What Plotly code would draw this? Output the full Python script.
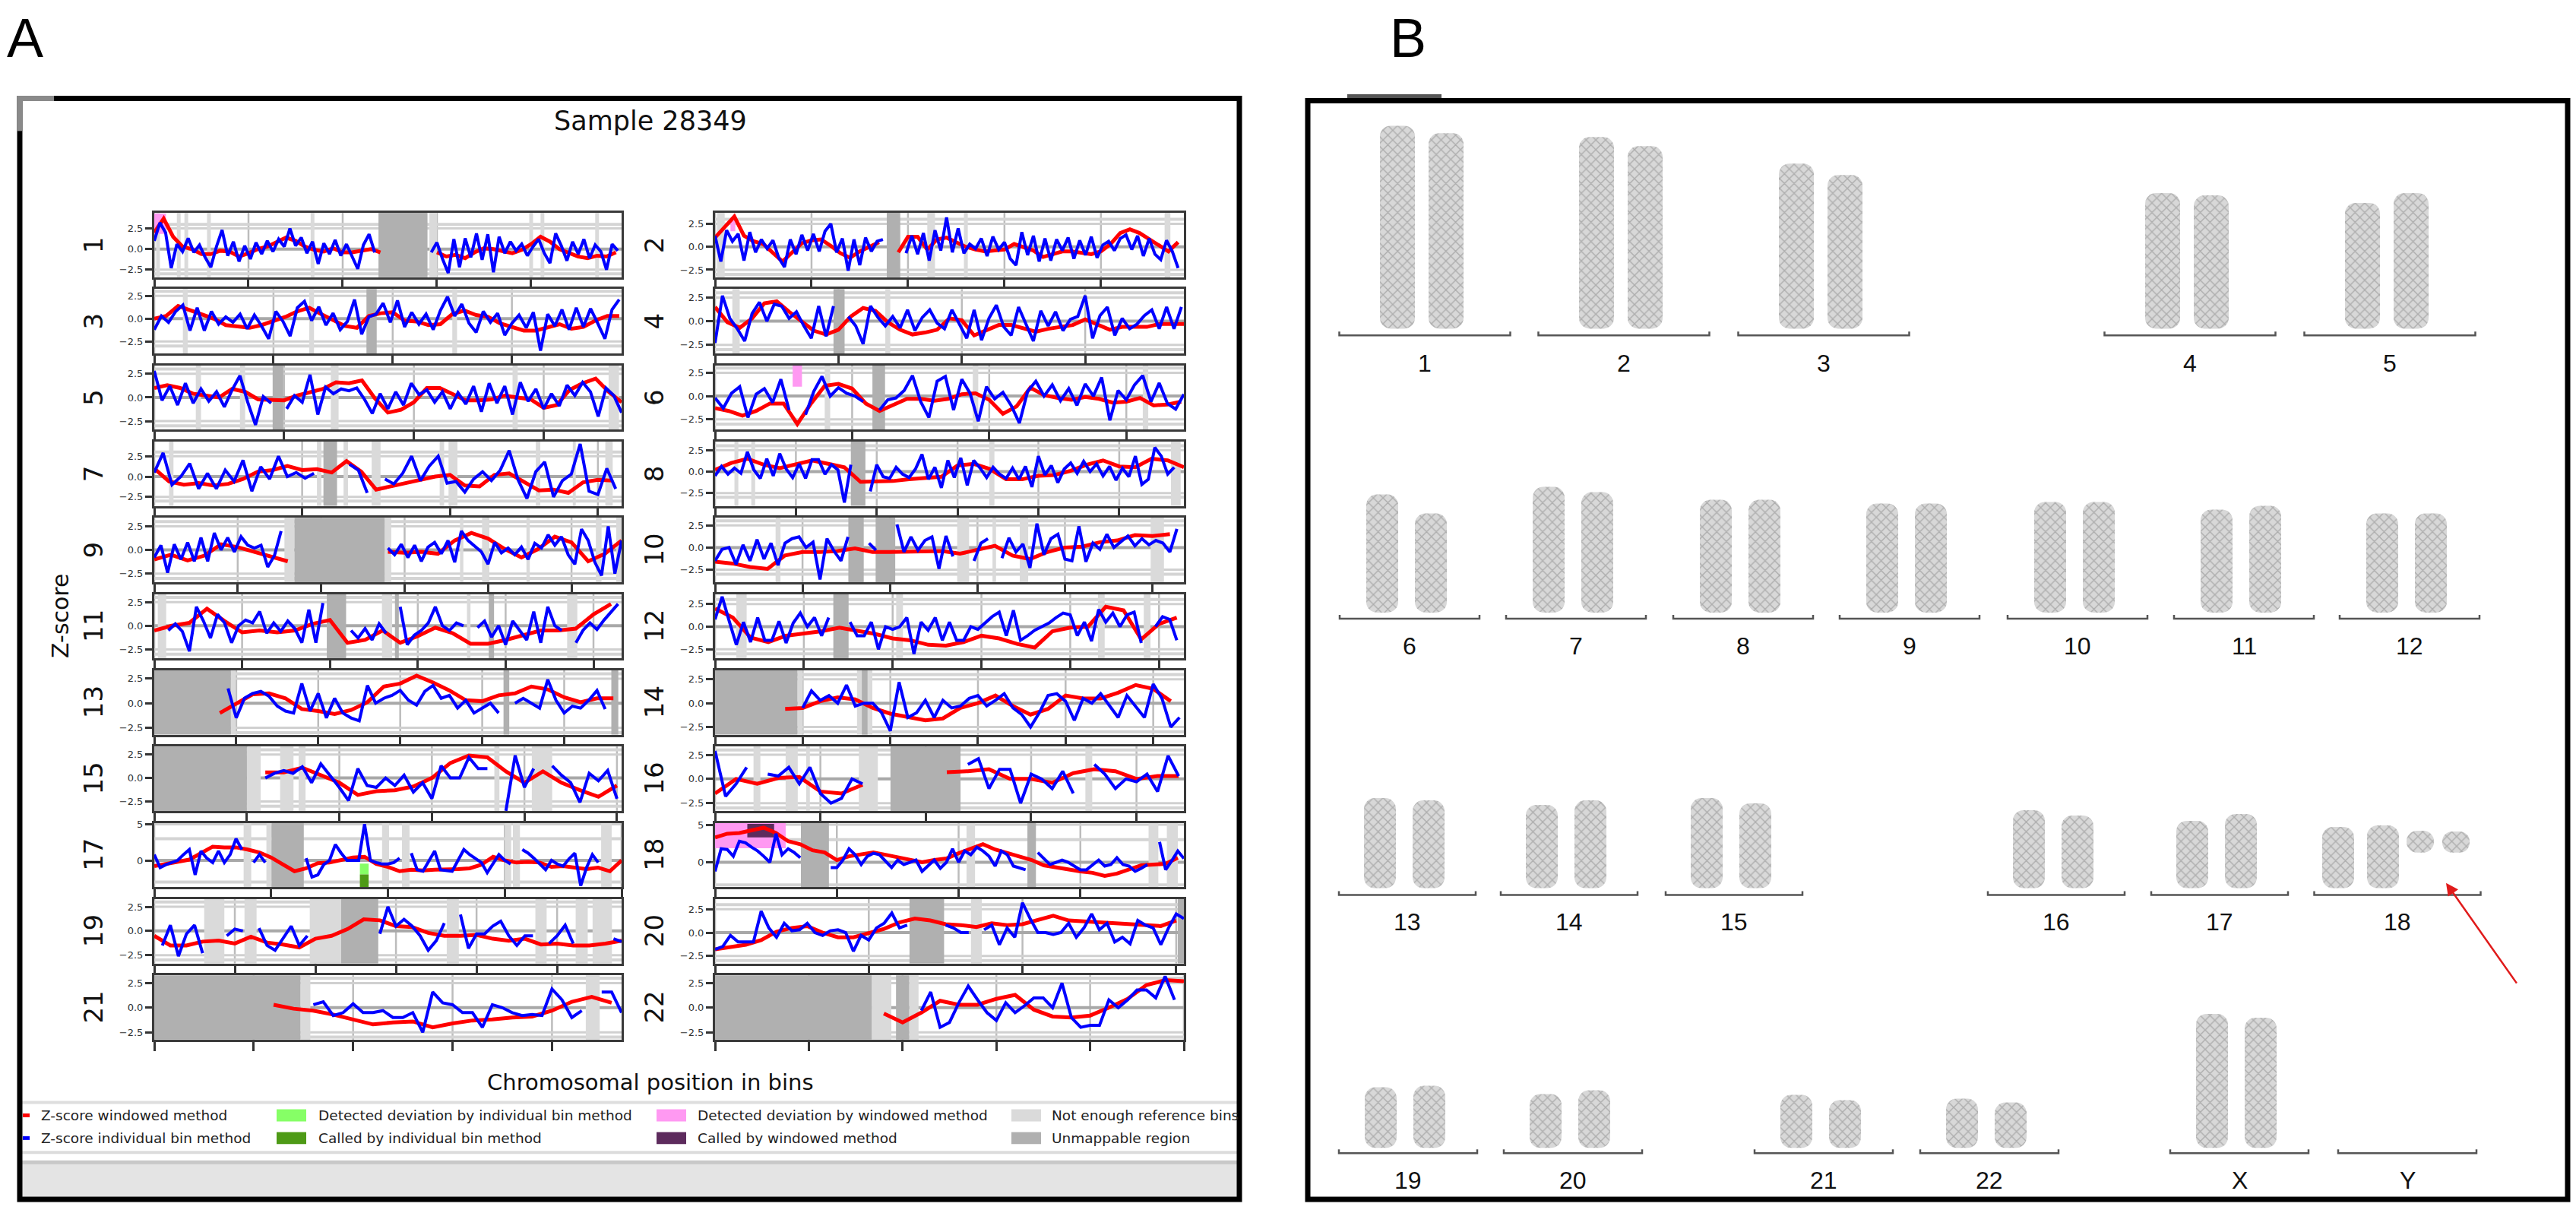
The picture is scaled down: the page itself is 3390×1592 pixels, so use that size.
import plotly.graph_objects as go

W, H = 3390, 1592

# ------------------------------------------------------------------ data
CHROMS = [str(c) for c in range(1, 23)]
LENGTHS = [248, 243, 196, 190, 180, 171, 158, 145, 140, 134, 133, 132, 114, 107, 101, 89, 80, 77, 58, 61, 47, 50]
DTICKS = [50, 50, 50, 50, 50, 50, 50, 25, 25, 25, 25, 25, 20, 20, 20, 20, 20, 20, 10, 20, 10, 10]
Y_MIN = [-3.4, -3.3, -3.8, -3.4, -3.4, -3.6, -3.6, -4.0, -3.4, -3.9, -3.45, -3.5, -3.2, -3.3, -3.5, -3.3, -3.7, -3.3, -3.35, -3.3, -3.25, -3.25]
Y_MAX = [4.4, 3.7, 3.25, 3.4, 3.4, 3.3, 4.3, 3.5, 3.4, 3.35, 3.35, 3.6, 3.35, 3.45, 3.35, 3.35, 5.2, 5.25, 3.3, 3.6, 3.3, 3.3]
STEP_IND = [3, 3, 3, 3, 3, 3, 3, 2, 2, 2, 2, 2, 2, 2, 2, 2, 1, 1, 1, 1, 1, 1]
STEP_WIN = [5, 5, 5, 5, 5, 5, 5, 5, 5, 5, 5, 5, 4, 4, 4, 4, 2, 2, 2, 2, 2, 2]

# z-score, individual bin method (blue)
Z_IND_1 = [1.0, 3.2, 2.0, -2.3, 0.6, -0.3, 1.3, -0.4, 0.5, -1.0,
           -2.2, 0.3, 2.3, -0.8, 0.9, -1.5, 0.4, -1.2, 0.8, -0.6,
           1.0, -0.3, 1.2, 0.3, 2.5, 0.4, 1.4, -0.5, 0.9, -1.8,
           0.7, -0.6, 1.1, -0.8, 0.6, -1.0, -2.4, 0.5, 1.8, -0.4,
           None, None, None, None, None, None, None, None, None, -0.4,
           0.8, -1.2, -2.9, 1.2, -2.2, 1.3, -1.0, 1.9, -1.3, 1.8,
           -2.8, 1.5, -0.5, 0.9, -0.2, 0.6, -0.8, 0.3, 1.2, -0.5,
           -1.7, 1.9, 0.4, -1.4, 0.9, -0.6, 1.2, -1.1, 0.5, -0.3,
           -2.5, 0.6, -0.2]
Z_IND_2 = [1.2, -1.6, 1.8, 0.6, 1.4, -1.5, 1.6, -0.6, 0.8, -0.2,
           0.7, -1.2, -2.2, 0.8, -0.8, 1.3, -0.4, 1.4, -0.5, 1.7,
           2.5, -0.6, 0.9, -2.6, 0.8, -2.0, 1.0, -0.5, 0.6, 0.8,
           None, None, None, -0.7, 1.2, -0.8, 1.5, -1.5, 1.8, -0.4,
           3.2, -0.6, 2.0, -0.7, 0.3, -0.2, 0.9, -1.0, 1.1, -0.3,
           0.5, -1.3, -2.0, 1.6, -0.9, 1.2, -1.6, 0.9, -1.5, 0.8,
           -0.4, 1.0, -1.3, 0.7, -0.9, 1.1, -1.2, 0.2, 0.6, -0.4,
           0.9, 1.3, -0.3, 1.2, -1.0, 0.9, -0.8, -1.4, 0.7, -0.5,
           -2.3]
Z_IND_3 = [-1.2, 0.3, -0.4, 0.8, 1.5, -1.3, 1.2, -1.3, 0.8, -0.6,
           0.2, -0.4, 0.5, -1.1, 0.4, -0.8, -2.2, 0.8, -0.3, -1.9,
           1.2, 1.9, -0.2, 1.3, -0.7, 0.6, -1.2, -0.3, 2.1, -1.7,
           0.2, 0.5, 1.7, -0.4, 2.0, -0.9, 0.7, -0.6, 0.5, -1.2,
           0.9, 2.4, 0.3, 1.6, -0.5, -1.5, 0.8, -0.4, 0.6, -1.8,
           -0.5, 0.4, -1.0, 0.7, -3.5, 0.5, -0.8, 1.0, -1.2, 1.2,
           -0.9, 1.1, -0.5, -2.2, 1.0, 2.1]
Z_IND_4 = [-2.3, 2.7, 0.3, -0.8, -2.1, 0.8, 2.0, 0.0, 1.8, 1.6,
           0.3, 1.0, -0.5, -1.8, 1.6, -1.6, 1.6, None, 0.5, -0.5,
           -2.4, 1.6, 0.4, -0.5, 0.5, -0.7, 1.2, -1.0, 0.4, 1.2,
           -0.2, -0.8, 1.2, -0.3, -1.8, 1.2, -2.0, 0.3, 1.7, -0.6,
           -1.5, 1.5, -0.4, -2.1, 1.1, -0.5, 1.0, -1.0, 0.2, 0.5,
           2.7, -1.8, 0.6, 1.5, -1.5, 0.3, -0.8, -0.3, 0.6, 1.2,
           -0.8, 1.5, -0.8, 1.5]
Z_IND_5 = [2.8, -0.3, 1.2, -0.8, 1.5, -0.6, 0.9, -0.4, 0.6, -1.0,
           0.8, 2.3, -0.5, -2.9, 0.1, -0.6, None, -1.2, 0.2, -0.5,
           2.4, -1.8, 1.1, 0.4, 0.9, 0.7, 1.0, -0.2, -1.7, 0.4,
           -1.2, 0.6, -0.8, 1.5, 0.3, 0.8, -0.5, 0.6, -1.2, 0.5,
           -0.7, 1.2, -1.5, 1.5, -0.6, 1.2, -1.8, 1.6, -0.4, 0.9,
           -1.2, 0.4, -0.9, 1.3, 0.2, 1.6, 0.6, -2.0, 1.0, 0.2,
           -1.6]
Z_IND_6 = [-0.2, -1.3, 0.3, 1.0, -2.3, 0.2, 0.8, -0.7, 1.8, -1.5,
           None, -2.0, 0.5, 2.1, 0.0, 0.9, 0.3, 0.0, -0.6, None,
           -1.5, -0.4, -0.2, 0.6, 2.2, -0.6, -2.3, 1.6, 2.1, -1.5,
           1.8, 0.3, -2.7, 1.0, -0.3, 0.4, -1.0, -2.9, 0.5, 1.6,
           0.0, 1.2, -0.5, 0.8, -1.0, 1.3, 0.0, 2.0, -2.6, 0.6,
           -0.4, 1.2, 2.2, -0.6, 1.4, -0.8, -1.4, 0.2]
Z_IND_7 = [0.5, 2.9, -1.0, 0.0, 1.6, -1.5, 0.4, -1.5, 0.8, -0.6,
           2.0, -1.8, 1.2, -0.3, 2.5, 0.0, 0.5, -0.2, 0.4, None,
           None, None, 1.5, 0.8, -2.0, None, -0.3, -0.9, 0.4, 2.5,
           -0.5, 1.3, 2.5, -0.8, -0.6, -1.9, -0.3, 0.6, -0.5, 0.8,
           3.2, -0.4, -2.7, 0.6, 1.8, -2.5, -0.5, 0.3, 4.0, -1.8,
           -2.2, 1.0, -1.5]
Z_IND_8 = [-0.5, 0.6, -0.3, 0.4, -0.2, 2.3, 0.2, -0.8, 1.5, -0.5,
           2.1, 0.3, -0.7, 0.9, -0.8, 1.4, 1.4, -0.3, 0.8, 0.2,
           -3.6, 0.8, None, None, -2.3, 0.8, -0.6, -0.8, 0.5, -0.3,
           -0.7, 0.3, 2.0, -0.9, 0.5, -1.9, 1.3, -0.7, 1.6, -1.6,
           1.3, 0.4, -0.7, 0.5, -0.3, -0.8, 0.4, -0.9, 0.6, -1.8,
           1.8, -0.4, 0.7, -1.3, 0.3, 1.0, -0.2, 1.2, 0.0, 0.9,
           -0.5, 0.6, -1.0, 0.4, -0.6, 1.8, -1.5, -0.9, 2.8, 1.8,
           -0.3, 0.5, None]
Z_IND_9 = [-0.8, 0.5, -2.4, 0.6, -1.0, 0.8, -1.2, 1.3, -1.2, 1.8,
           0.0, 1.3, -0.2, 1.4, 0.5, 0.2, 0.5, -1.8, -0.6, 2.0,
           None, None, None, None, None, None, None, None, None, None,
           None, None, None, None, None, 0.2, -0.5, 0.6, -0.8, 0.5,
           -1.2, 0.3, 0.8, -0.4, 1.0, -1.3, 2.0, 1.0, 0.4, -0.2,
           -1.5, 0.8, -0.3, 0.2, -0.5, 0.3, -1.0, 0.7, 0.2, 1.6,
           0.5, 1.4, -0.5, -1.5, 2.2, 1.0, -1.3, -2.7, 2.5, -2.5,
           1.0]
Z_IND_10 = [-1.5, -0.2, 0.0, -1.9, 0.3, -1.5, 0.9, -1.3, 0.5, -2.0,
            0.5, 1.0, 1.2, 0.0, 0.6, -3.6, 1.0, -0.4, -1.5, 1.2,
            None, None, 0.5, -0.3, None, None, 2.6, -0.5, 1.2, -0.3,
            0.8, 1.2, -2.4, 1.3, -1.0, None, None, -1.5, 0.5, 1.0,
            None, -1.2, 1.1, -0.5, 0.4, -2.3, 2.7, -0.8, 1.0, 1.5,
            -1.3, -1.5, 2.4, -1.6, 0.5, -0.2, 1.5, 0.0, 0.6, 1.3,
            0.2, 1.0, 0.3, 0.8, 0.5, -0.5, 2.1, None]
Z_IND_11 = [None, None, -0.5, 0.2, -0.6, -2.7, 2.0, 0.5, -1.3, 1.2,
            0.3, -1.8, 0.0, 0.6, 0.3, 1.5, -0.8, 0.3, -0.6, 0.5,
            -0.3, -1.8, 1.7, -1.8, 2.4, None, None, None, -0.5, -1.3,
            -0.3, -1.5, 0.2, -0.8, None, 2.0, -2.0, -1.0, -0.5, 0.3,
            2.0, 0.0, -0.5, 0.3, 0.0, None, -0.2, 0.5, -1.2, 0.0,
            -2.0, 0.5, -0.5, -1.5, 1.5, -1.8, 2.0, 0.0, -0.5, None,
            -1.8, -0.5, 0.3, -0.4, 0.6, 1.5, 2.3]
Z_IND_12 = [0.8, 3.3, 0.6, -2.0, 0.5, -1.7, 1.0, -1.5, -1.5, 0.6,
            -1.8, 0.4, 1.5, 0.0, 1.0, -1.0, 1.0, None, None, 0.5,
            -1.0, -1.0, 0.5, -2.5, 0.0, -0.3, 0.0, 1.0, -3.0, 0.5,
            -0.4, 1.0, -1.5, 0.5, -1.5, -1.5, 0.0, -0.3, 0.4, 1.1,
            1.6, -1.0, 1.8, -1.5, -1.0, -0.4, 0.0, 0.4, 1.0, 1.5,
            1.3, -1.0, 0.5, -1.6, 1.9, 0.5, 1.5, 0.0, 1.3, 1.6,
            -1.8, None, 0.0, 1.1, 0.8, -1.5, None]
Z_IND_13 = [None, None, None, None, None, None, None, None, None, 1.5,
            -1.5, 0.5, 1.0, 1.2, 0.7, -0.3, -0.8, -1.0, 2.0, -0.8,
            1.0, -1.5, 0.5, -1.0, -1.5, -1.8, 1.8, 0.0, 0.5, 0.8,
            1.3, 0.3, -0.2, 1.2, 1.8, 0.5, 0.8, -0.5, 0.3, -1.0,
            -0.5, 0.0, -1.0, None, 0.0, 0.5, 0.0, -0.5, 2.4, 0.3,
            -1.0, -0.3, -0.5, 0.3, 1.3, -0.6, None, None]
Z_IND_14 = [None, None, None, None, None, None, None, None, None, None,
            -0.5, 1.3, 0.3, 0.8, 0.0, 1.9, -0.3, 0.0, 0.0, -1.0,
            -2.9, 2.2, -1.5, -1.0, 0.3, -1.5, 0.3, -0.5, -0.3, 0.5,
            0.8, -0.3, 0.3, 1.0, -0.5, -1.2, -2.5, -1.0, 0.8, 1.0,
            0.2, -1.8, 0.5, 0.0, 1.0, -0.3, -1.5, 0.8, -0.4, -1.5,
            2.0, 0.5, -2.5, -1.5]
Z_IND_15 = [None, None, None, None, None, None, None, None, None, None,
            None, None, 0.0, 0.5, 0.8, 0.5, 1.2, -0.5, 1.5, 0.3,
            -1.0, -2.4, 1.0, -0.8, -1.0, 0.0, -0.8, 0.3, -1.5, -0.5,
            -2.2, 1.3, 0.0, 0.0, 2.2, 1.0, 1.0, None, -3.5, 2.4,
            -1.0, 1.0, None, 1.3, 0.3, -0.5, -2.6, 0.5, -0.3, 0.8,
            -2.2]
Z_IND_16 = [2.9, -1.8, -0.5, 1.2, None, 0.5, 0.3, 1.2, -0.5, 1.2,
            -1.5, -2.5, -2.0, 0.0, -0.5, None, None, None, None, None,
            None, None, None, None, 1.5, 2.1, -1.0, 1.0, 1.0, -2.5,
            0.5, 0.0, -1.0, 0.8, -1.5, None, 1.5, 0.5, -1.0, 0.0,
            -0.3, 0.5, -1.3, 2.4, 0.3]
Z_IND_17 = [0.8, -1.0, -0.6, -0.3, 0.0, 0.8, 1.5, -2.0, 1.3, 0.3,
            -0.3, 1.3, -0.3, 0.8, 3.0, 1.5, None, -0.3, 0.8, -0.3,
            None, None, None, None, None, None, 0.3, -2.3, -2.0, -0.6,
            0.0, 2.2, 1.0, 0.0, 0.0, 0.0, 5.0, 0.0, -0.3, -0.5,
            -0.5, -0.3, 0.3, None, 1.0, -1.3, -1.5, 0.0, 1.3, -1.3,
            -1.4, -1.5, 0.0, 1.5, 0.8, 0.3, -0.3, -1.7, -0.4, 0.8,
            0.0, -0.5, None, 1.5, 1.0, 0.3, -0.5, -1.3, 0.0, -0.5,
            -0.8, 0.2, 1.0, -3.5, -1.0, 0.8, -0.3, None, None, None,
            None]
Z_IND_18 = [-1.2, 1.8, 1.7, 0.8, 2.8, 2.6, 2.0, 1.5, 0.8, 0.0,
            3.8, 1.0, 1.8, 1.3, 0.6, None, None, None, None, -0.7,
            -0.7, 0.3, 1.8, 1.0, -0.3, 0.8, 1.2, 1.0, 0.2, -0.7,
            0.3, -0.3, 0.0, 0.3, -1.2, -0.5, 0.3, -0.8, 0.0, 1.8,
            0.0, 1.5, 1.0, 2.0, 1.5, 0.8, -0.5, 1.5, 1.0, -0.5,
            -0.8, -1.0, None, 1.3, 0.5, -0.3, 0.0, 0.3, 0.0, -0.5,
            -1.0, -1.0, -0.3, 0.3, -0.5, -0.3, 0.6, -0.3, -0.5, -1.2,
            -0.8, -0.3, None, 2.7, -1.0, 0.2, 1.5, 0.5]
Z_IND_19 = [None, -1.5, 0.6, -2.6, -0.3, 0.6, -2.3, None, None, -0.5,
            0.2, 0.0, None, 0.3, -1.5, -2.0, -0.8, 0.5, -1.5, -0.5,
            None, None, None, None, None, None, None, None, -0.3, 2.5,
            0.5, 1.2, 0.5, -0.5, -2.0, -1.0, 0.8, None, 1.7, -1.8,
            -0.3, -0.3, 0.5, 1.0, -0.5, -1.5, -0.5, -0.5, None, -1.3,
            -0.5, 0.6, -1.3, None, None, None, None, -0.8, -1.1]
Z_IND_20 = [-1.8, -1.5, -0.3, -1.0, -1.0, -1.0, 2.3, 0.5, -0.5, 1.0,
            0.2, 0.3, 1.0, 0.0, -0.3, 0.2, 0.3, 0.0, -2.0, -0.3,
            -0.8, 0.5, 1.0, 2.1, 0.5, 0.8, None, None, None, None,
            0.8, 0.5, 0.0, 0.0, None, 0.3, 0.8, -1.3, 0.5, -0.5,
            3.2, 1.5, 0.0, 0.0, -0.2, 0.0, 1.0, -0.5, 0.5, 2.0,
            0.3, 1.0, -1.0, -0.5, -1.2, 1.3, 0.8, 0.5, -1.3, 0.5,
            2.0, 1.5]
Z_IND_21 = [None, None, None, None, None, None, None, None, None, None,
            None, None, None, None, None, None, 0.3, 0.6, -0.8, -0.5,
            0.4, -0.5, -0.5, -0.3, -1.0, -1.0, -0.5, -2.5, 1.6, 0.5,
            0.3, -0.5, -0.5, -2.0, 0.3, 0.0, -0.5, -0.8, -0.7, -0.8,
            1.9, 0.8, -1.0, -0.3, None, 1.6, 1.6, -0.5]
Z_IND_22 = [None, None, None, None, None, None, None, None, None, None,
            None, None, None, None, None, None, None, None, None, None,
            None, None, -0.3, 1.6, -2.0, -1.5, 0.5, 2.2, 0.8, -0.5,
            -1.3, 0.5, -0.5, 0.2, 1.0, 1.0, 0.0, 2.5, -1.0, -2.0,
            -1.8, -1.8, 0.8, 0.0, 0.8, 1.8, 1.8, 1.0, 3.2, 0.8,
            None]

# z-score, windowed method (red)
Z_WIN_1 = [2.0, 3.7, 1.5, 0.3, 0.0, -0.6, -0.6, -0.2, -0.3, -0.9,
           -0.5, 0.0, 0.3, 0.8, 1.4, 1.0, 0.3, -0.1, -0.3, 0.1,
           -0.4, -0.4, -0.2, 0.0, -0.4, None, None, None, None, None,
           -0.4, -0.9, -0.7, -1.1, -0.4, 0.1, 0.0, -0.2, -0.5, -0.1,
           0.6, 1.5, 0.9, 0.0, -0.5, -0.9, -1.1, -0.8, -0.9, -0.4]
Z_WIN_2 = [1.0, 2.2, 3.3, 1.2, 0.6, 0.3, -0.6, -1.6, -0.6, 0.4,
           0.7, 0.8, 0.1, -0.7, -1.2, -0.5, 0.0, 0.5, None, -0.6,
           1.1, 1.1, -0.3, 0.8, 1.0, 0.5, 0.0, -0.3, -0.5, -0.4,
           -0.3, 0.3, 0.0, -0.4, -1.1, -0.8, -0.5, -0.5, -0.7, -0.8,
           -0.5, 0.3, 1.5, 1.9, 1.5, 0.8, 0.2, -0.5, 0.5]
Z_WIN_3 = [0.0, 0.3, 1.4, 0.9, 0.4, 0.0, -0.7, -0.8, -1.0, -0.7,
           -0.3, 0.2, 0.8, 1.2, 0.5, -0.1, -0.8, -1.0, 0.3, 0.6,
           0.7, -0.2, -0.3, -0.7, -0.6, 0.5, 0.9, 0.4, 0.2, -0.5,
           -0.9, -1.3, -1.3, -1.0, -0.6, -1.1, -0.9, -0.2, 0.3, 0.3]
Z_WIN_4 = [1.5, -0.1, -0.7, 0.3, 1.9, 2.1, 1.0, 0.0, -1.0, -1.4,
           -0.9, 0.5, 1.4, 1.1, -0.1, -0.9, -1.4, -1.2, -0.9, 0.3,
           0.1, -1.5, -1.0, -0.4, -0.4, -0.7, -1.1, -0.8, -0.6, -0.4,
           0.2, -0.3, -0.9, -0.6, -0.6, -0.6, -0.3, -0.3, -0.3]
Z_WIN_5 = [1.0, 1.3, 1.0, 0.4, 0.2, 0.0, 0.9, 0.6, -0.2, -0.2,
           -0.3, 0.2, 0.6, 0.9, 1.6, 1.5, 1.8, -0.1, -1.6, -1.3,
           -0.5, 1.0, 1.0, 0.3, -0.3, -0.3, -0.2, 0.2, 0.0, -0.2,
           -1.1, -0.8, 0.8, 1.5, 2.0, 0.6, -0.5]
Z_WIN_6 = [-1.3, -1.6, -2.1, -1.6, -0.8, -0.8, -3.0, -0.8, 1.1, 1.3,
           0.8, -0.8, -1.6, -1.0, -0.3, -0.3, -0.5, -0.3, 0.2, 0.3,
           -0.4, -1.9, -1.1, 0.9, 0.1, -0.2, -0.4, -0.1, -0.3, -0.7,
           -0.6, -0.2, -1.0, -0.9, -0.6]
Z_WIN_7 = [1.0, -0.6, -1.0, -0.8, -1.1, -0.9, -0.3, 0.6, 0.8, 1.3,
           0.8, 0.9, 0.5, 1.9, 0.6, -1.6, -1.2, -0.8, -0.3, 0.0,
           0.2, -1.1, -1.2, 0.2, 0.4, -0.6, -1.7, -1.6, -2.0, -0.7,
           -0.4, -0.5]
Z_WIN_8 = [0.2, 1.0, 1.5, 0.8, 0.4, 0.8, 1.3, 0.9, 0.5, -1.2,
           -1.2, -1.1, -0.9, -0.8, -0.6, 0.7, 0.9, 0.3, -0.9, -0.9,
           -0.5, -0.4, 0.1, 0.8, 1.3, 0.6, 0.5, 1.5, 1.3, 0.5]
Z_WIN_9 = [-1.0, -0.5, -1.1, -0.6, 0.6, 0.3, -0.2, -0.7, -1.2, None,
           None, None, None, None, -0.2, -0.3, -0.2, -0.4, 1.0, 1.8,
           1.2, 0.1, -0.8, 0.1, 1.4, 0.8, -1.2, -0.4, 1.0]
Z_WIN_10 = [-1.6, -1.8, -2.2, -2.4, -0.9, -0.5, -0.5, -0.4, -0.1, -0.5,
            -0.5, -0.5, -0.5, -0.4, -0.7, -0.2, 0.2, -0.9, -1.3, -0.5,
            0.0, 0.1, 0.6, 0.8, 1.4, 1.3, 1.5]
Z_WIN_11 = [-0.5, 0.0, 0.3, 1.8, 0.5, -0.7, -0.5, -0.7, -0.5, 0.2,
            0.6, -1.8, -1.5, -0.5, -1.8, -1.1, -0.2, -0.8, -1.9, -1.9,
            -1.5, -1.0, -0.5, -0.5, -0.3, 1.2, 2.3]
Z_WIN_12 = [2.0, 1.0, -1.2, -1.7, -1.0, -0.8, -0.5, -0.1, -0.4, -0.8,
            -1.3, -1.5, -2.0, -2.1, -1.7, -1.0, -1.3, -1.9, -2.3, -0.5,
            -0.1, 0.0, 2.2, 1.8, -1.4, 0.3, 1.0]
Z_WIN_13 = [None, None, None, None, -1.0, -0.1, 0.9, 1.0, 0.5, -0.6,
            -0.8, -1.1, -0.7, 0.1, 1.7, 2.0, 2.8, 2.1, 1.3, 0.3,
            0.2, 0.8, 1.0, 1.7, 1.4, 0.6, 0.1, 0.5, 0.5]
Z_WIN_14 = [None, None, None, None, -0.6, -0.5, 0.2, 0.6, 0.4, -0.5,
            -1.1, -1.4, -1.8, -1.6, -0.5, 0.0, 0.8, -0.3, -1.2, -0.6,
            0.8, 0.5, 0.5, 1.1, 1.9, 1.5, 0.2]
Z_WIN_15 = [None, None, None, None, None, None, 0.6, 0.6, 1.1, 0.3,
            -0.5, -1.8, -1.4, -1.3, -0.9, 0.0, 1.6, 2.4, 2.2, 0.7,
            -0.5, 0.7, -0.5, -1.3, -2.0, -0.8]
Z_WIN_16 = [-1.5, 0.0, -0.5, 0.1, 0.2, -1.3, -1.5, -0.6, None, None,
            None, 0.7, 0.8, 1.0, 0.0, 0.0, -0.4, 0.6, 1.0, 0.8,
            0.0, 0.3, 0.3]
Z_WIN_17 = [-0.8, -0.5, -0.3, 0.1, 1.0, 1.9, 1.8, 1.8, 1.5, 1.1,
            0.4, -0.6, -1.5, -1.1, -0.4, -0.3, 0.0, 0.4, 0.5, -0.5,
            -0.9, -1.5, -1.3, -1.4, -1.3, -1.3, -1.2, -1.1, -0.6, 0.5,
            0.0, -0.3, -0.2, -0.3, -0.9, -0.8, -1.0, -1.2, -1.0, -1.5,
            0.0]
Z_WIN_18 = [3.3, 3.8, 3.9, 4.3, 4.6, 3.9, 2.8, 2.4, 1.6, 1.3,
            0.3, 0.8, 1.1, 1.3, 1.0, 0.7, 0.4, 0.0, 0.3, 0.5,
            1.2, 1.8, 2.4, 1.7, 1.2, 0.7, 0.3, -0.4, -0.7, -1.0,
            -1.2, -1.4, -1.8, -1.5, -0.9, -0.4, -0.3, -0.2, 0.6]
Z_WIN_19 = [-0.5, -1.5, -1.5, -1.1, -1.0, -1.3, -0.6, -1.2, -1.4, -1.7,
            -0.8, -0.5, 0.2, 1.2, 1.1, 0.5, 0.4, -0.2, -0.5, -0.5,
            -0.4, -0.8, -1.0, -0.8, -1.4, -1.3, -1.5, -1.5, -1.3, -1.0]
Z_WIN_20 = [-1.8, -1.5, -1.3, -0.8, 0.1, 0.5, 0.7, 0.0, -0.5, -0.5,
            -0.1, 0.4, 1.1, 1.5, 1.3, 0.9, 0.8, 0.6, 1.0, 0.8,
            0.9, 1.3, 1.8, 1.3, 1.2, 1.1, 1.0, 1.0, 0.8, 0.7,
            1.3]
Z_WIN_21 = [None, None, None, None, None, None, 0.3, -0.1, -0.3, -0.7,
            -1.2, -1.7, -1.5, -1.4, -2.0, -1.6, -1.3, -1.2, -1.0, -0.9,
            -0.3, 0.6, 1.1, 0.5]
Z_WIN_22 = [None, None, None, None, None, None, None, None, None, -0.6,
            -1.5, -0.5, 0.7, 0.3, 0.3, 0.9, 1.3, -0.2, -0.9, -1.0,
            -0.8, 0.0, 0.9, 2.3, 2.8, 2.7]

# shaded regions, in bins: [start, end]
UNMAPPABLE = [
    [[119, 145]], [[89, 96]], [[89, 93.3]], [[48, 52.5]], [[45.6, 49.7]], [[57.4, 62]],
    [[57.2, 61.8]], [[42, 46.5]], [[42, 69]], [[38.1, 42.5], [45.9, 51.5]],
    [[49.1, 54.6], [68.5, 69.6], [95.2, 96.7]], [[33.3, 37.6]],
    [[0, 18.7], [85.2, 86.6], [111.5, 113.2]], [[0, 18.8], [33.5, 34.8]], [[0, 20]],
    [[33.3, 46.6]], [[20.1, 25.6]], [[14.1, 18.7], [51.3, 52.7]], [[23.2, 27.8]],
    [[25.3, 29.8], [60.2, 61]], [[0, 14.7]], [[0, 16.7], [19.3, 20.7]],
]
NOT_ENOUGH_REF = [
    [[1, 3], [12, 14], [16, 18], [28, 30], [83, 85], [146, 150], [199, 201], [205, 207], [234, 236]],
    [[1, 5], [110, 114], [129, 131], [233, 236]],
    [[12, 14], [65, 67], [125, 127]],
    [[7, 10], [69, 71]],
    [[16, 18], [33, 35], [68, 71], [138, 140], [175, 179]],
    [[40, 42], [94, 96], [156, 158]],
    [[5, 6.5], [55, 56.5], [64, 65.5], [73.5, 76.5], [96.5, 98], [99.5, 102.5], [129, 130.5], [141.5, 142.5], [152.5, 155]],
    [[6, 7.2], [11.2, 12.4], [84.8, 86.4], [141, 144]],
    [[39, 42], [69, 71], [91.6, 92.6], [98.2, 100.3], [111.5, 112.5], [132.3, 134], [138.4, 140]],
    [[17.3, 18.7], [69.2, 72.6], [79.3, 80.3], [87.1, 89.5], [124.5, 128.3]],
    [[1, 3.4], [64.8, 67.7], [89, 90], [117.5, 120.4]],
    [[6, 8.9], [51, 52.9], [107.8, 109.7], [120.7, 122.6]],
    [[18.7, 19.9]],
    [[18.8, 20], [32.4, 35.9]],
    [[20, 23], [27.2, 30.1], [31.2, 32.7], [73.5, 74.6], [81.6, 86]],
    [[7.3, 8.6], [13.4, 15.7], [17.3, 18], [27.3, 30.9], [70.3, 71.6]],
    [[15.3, 16.6], [19.2, 20.1], [39, 40.2], [42.4, 43.7], [60, 61.1], [61.4, 62.6], [76.5, 78.3]],
    [[41.3, 42.7], [71.2, 72.8], [74.2, 76]],
    [[6.2, 8.7], [11.2, 12.7], [19.3, 23.2], [36.3, 37.8], [47.3, 48.7], [52.3, 53.8], [54.4, 56.8]],
    [[33.3, 34.7]],
    [[14.7, 15.7], [43.4, 44.8]],
    [[16.7, 18.8], [20.7, 21.7]],
]
# deviations: (chromosome, start bin, end bin, z low, z high)
DETECTED_IND = [(17, 35.2, 36.7, -1.95, -0.45)]
CALLED_IND = [(17, 35.2, 36.7, -3.7, -1.95)]
DETECTED_WIN = [(1, 0, 6.2, 1.85, 4.3), (2, 8, 10.5, 1.7, 2.9), (6, 28.3, 31.7, 1.0, 3.3), (18, 0, 11.6, 1.86, 5.25)]
CALLED_WIN = [(18, 5.3, 9.7, 3.3, 5.1)]

# karyotype (panel B): apparent length of each homologue in the photo
KARYO_LABELS = ["1", "2", "3", "4", "5", "6", "7", "8", "9", "10", "11", "12",
                "13", "14", "15", "16", "17", "18", "19", "20", "21", "22", "X", "Y"]
KARYO_LEN_A = [268, 253, 218, 179, 166, 156, 166, 149, 144, 146, 136, 131,
               119, 110, 119, 103, 89, 81, 80, 71, 70, 65, 177, 0]
KARYO_LEN_B = [258, 241, 203, 176, 179, 131, 159, 149, 144, 146, 141, 131,
               116, 116, 112, 96, 98, 83, 82, 76, 63, 60, 172, 0]
KARYO_FRAG_18 = [29, 28]

Z_IND = [Z_IND_1, Z_IND_2, Z_IND_3, Z_IND_4, Z_IND_5, Z_IND_6, Z_IND_7, Z_IND_8, Z_IND_9, Z_IND_10, Z_IND_11,
         Z_IND_12, Z_IND_13, Z_IND_14, Z_IND_15, Z_IND_16, Z_IND_17, Z_IND_18, Z_IND_19, Z_IND_20, Z_IND_21, Z_IND_22]
Z_WIN = [Z_WIN_1, Z_WIN_2, Z_WIN_3, Z_WIN_4, Z_WIN_5, Z_WIN_6, Z_WIN_7, Z_WIN_8, Z_WIN_9, Z_WIN_10, Z_WIN_11,
         Z_WIN_12, Z_WIN_13, Z_WIN_14, Z_WIN_15, Z_WIN_16, Z_WIN_17, Z_WIN_18, Z_WIN_19, Z_WIN_20, Z_WIN_21, Z_WIN_22]

# ------------------------------------------------------------------ style / layout constants
FONT = "DejaVu Sans"
KFONT = "Liberation Sans Narrow, Liberation Sans, Arial"
C_WIN, C_IND = "#ff0000", "#0000ff"
C_DET_IND, C_CALL_IND = "#86ff66", "#4e9a16"
C_DET_WIN, C_CALL_WIN = "#ff99f2", "#5d2b5d"
C_NOREF, C_UNMAP = "#dadada", "#b0b0b0"

COL_X = [(203, 818), (941, 1558)]
ROW_TOP0, ROW_PITCH, ROW_H = 275, 100.7, 85
LABEL_X = [123, 861]


def px(x):
    return x / W


def py(y):
    return 1 - y / H


def note(x, y, text, size, family=FONT, color="#111", angle=0, xanchor="center"):
    return dict(x=px(x), y=py(y), xref="paper", yref="paper", text=text, showarrow=False,
                textangle=angle, xanchor=xanchor, yanchor="middle",
                font=dict(family=family, size=size, color=color))


fig = go.Figure()
layout = {}
shapes = []
annotations = []

for i in range(22):
    n = "" if i == 0 else str(i + 1)
    col, row = i % 2, i // 2
    top = ROW_TOP0 + ROW_PITCH * row
    bot = top + ROW_H
    x0, x1 = COL_X[col]
    big = Y_MAX[i] > 5
    yticks = [0, 5] if big else [-2.5, 0, 2.5]
    layout["xaxis" + n] = dict(
        domain=[px(x0), px(x1)], range=[0, LENGTHS[i]], anchor="y" + n,
        tickmode="linear", tick0=0, dtick=DTICKS[i], showticklabels=False,
        ticks="outside", ticklen=12, tickwidth=3, tickcolor="#333333",
        showgrid=False, zeroline=False,
        showline=True, mirror=True, linecolor="#3a3a3a", linewidth=3, fixedrange=True)
    layout["yaxis" + n] = dict(
        domain=[py(bot), py(top)], range=[Y_MIN[i], Y_MAX[i]], anchor="x" + n,
        tickmode="array", tickvals=yticks,
        ticktext=["0", "5"] if big else ["\u22122.5", "0.0", "2.5"],
        ticks="outside", ticklen=9, tickwidth=3, tickcolor="#333333",
        tickfont=dict(family=FONT, size=13, color="#333333"),
        showgrid=False, zeroline=False,
        showline=True, mirror=True, linecolor="#3a3a3a", linewidth=3, fixedrange=True)

    # grid (drawn as shapes so that the shaded regions can cover it)
    xt = 0
    while xt <= LENGTHS[i]:
        shapes.append(dict(type="line", xref="x" + n, yref="y" + n + " domain", x0=xt, x1=xt, y0=0, y1=1,
                           line=dict(color="#bcbcbc", width=2.5), layer="below"))
        xt += DTICKS[i]
    for yv in (3, -3):
        shapes.append(dict(type="line", xref="x" + n + " domain", yref="y" + n, x0=0, x1=1, y0=yv, y1=yv,
                           line=dict(color="#d4d4d4", width=4), layer="below"))
    for yv in yticks:
        shapes.append(dict(type="line", xref="x" + n + " domain", yref="y" + n, x0=0, x1=1, y0=yv, y1=yv,
                           line=dict(color="#a8a8a8" if yv == 0 else "#d0d0d0", width=4 if yv == 0 else 3),
                           layer="below"))
    # shaded regions
    for a, b in NOT_ENOUGH_REF[i]:
        shapes.append(dict(type="rect", xref="x" + n, yref="y" + n + " domain", x0=a, x1=b, y0=0, y1=1,
                           fillcolor=C_NOREF, line=dict(width=0), layer="below"))
    for a, b in UNMAPPABLE[i]:
        shapes.append(dict(type="rect", xref="x" + n, yref="y" + n + " domain", x0=a, x1=b, y0=0, y1=1,
                           fillcolor=C_UNMAP, line=dict(width=0), layer="below"))

    xs_w = [STEP_WIN[i] * k for k in range(len(Z_WIN[i]))]
    xs_i = [STEP_IND[i] * k for k in range(len(Z_IND[i]))]
    fig.add_trace(go.Scatter(x=xs_w, y=Z_WIN[i], mode="lines", line=dict(color=C_WIN, width=5),
                             xaxis="x" + n, yaxis="y" + n, showlegend=False, hoverinfo="skip"))
    fig.add_trace(go.Scatter(x=xs_i, y=Z_IND[i], mode="lines", line=dict(color=C_IND, width=4),
                             xaxis="x" + n, yaxis="y" + n, showlegend=False, hoverinfo="skip"))

    annotations.append(note(LABEL_X[col], top + ROW_H / 2, CHROMS[i], 34, angle=-90))

for group, color in ((DETECTED_IND, C_DET_IND), (CALLED_IND, C_CALL_IND),
                     (DETECTED_WIN, C_DET_WIN), (CALLED_WIN, C_CALL_WIN)):
    for c, a, b, lo, hi in group:
        n = "" if c == 1 else str(c)
        shapes.append(dict(type="rect", xref="x" + n, yref="y" + n, x0=a, x1=b, y0=lo, y1=hi,
                           fillcolor=color, line=dict(width=0), layer="below"))

# ------------------------------------------------------------------ panel A texts / legend / frame
annotations += [
    note(33, 44, "A", 72, family="Liberation Sans, Arial", color="#000"),
    note(1853, 44, "B", 72, family="Liberation Sans, Arial", color="#000"),
    note(856, 154, "Sample 28349", 35),
    note(856, 1423, "Chromosomal position in bins", 29),
    note(80, 808, "Z-score", 30, angle=-90),
]

LEG_ROWS = [1467, 1497]
LEG_FONT = 18.5
LEG_LINES = [("Z-score windowed method", C_WIN), ("Z-score individual bin method", C_IND)]
for (lab, col), yy in zip(LEG_LINES, LEG_ROWS):
    shapes.append(dict(type="line", xref="paper", yref="paper", x0=px(30), x1=px(39), y0=py(yy), y1=py(yy),
                       line=dict(color=col, width=5)))
    annotations.append(note(52, yy, lab, LEG_FONT, color="#222", xanchor="left"))
LEG_BOXES = [
    (364, 417, [("Detected deviation by individual bin method", C_DET_IND), ("Called by individual bin method", C_CALL_IND)]),
    (864, 916, [("Detected deviation by windowed method", C_DET_WIN), ("Called by windowed method", C_CALL_WIN)]),
    (1331, 1382, [("Not enough reference bins", C_NOREF), ("Unmappable region", C_UNMAP)]),
]
for bx0, tx, items in LEG_BOXES:
    for (lab, col), yy in zip(items, LEG_ROWS):
        shapes.append(dict(type="rect", xref="paper", yref="paper", x0=px(bx0), x1=px(bx0 + 39),
                           y0=py(yy + 8), y1=py(yy - 8), fillcolor=col, line=dict(width=0)))
        annotations.append(note(tx, yy, lab, LEG_FONT, color="#222", xanchor="left"))

# legend frame lines and grey window strip at the bottom of panel A
shapes += [
    dict(type="line", xref="paper", yref="paper", x0=px(27), x1=px(1628), y0=py(1450), y1=py(1450),
         line=dict(color="#dedede", width=4)),
    dict(type="line", xref="paper", yref="paper", x0=px(27), x1=px(1628), y0=py(1516), y1=py(1516),
         line=dict(color="#dcdcdc", width=4)),
    dict(type="rect", xref="paper", yref="paper", x0=px(27), x1=px(1628), y0=py(1579), y1=py(1527),
         fillcolor="#e4e4e4", line=dict(width=0)),
    dict(type="line", xref="paper", yref="paper", x0=px(27), x1=px(1628), y0=py(1529), y1=py(1529),
         line=dict(color="#c8c8c8", width=5)),
    # panel frames
    dict(type="rect", xref="paper", yref="paper", x0=px(26), x1=px(1631), y0=py(1578), y1=py(124),
         line=dict(color="#000", width=7), fillcolor="rgba(0,0,0,0)"),
    dict(type="rect", xref="paper", yref="paper", x0=px(1721), x1=px(3379), y0=py(1578), y1=py(127),
         line=dict(color="#000", width=7), fillcolor="rgba(0,0,0,0)"),
    dict(type="line", xref="paper", yref="paper", x0=px(23), x1=px(71), y0=py(124), y1=py(124),
         line=dict(color="#8a8a8a", width=7)),
    dict(type="line", xref="paper", yref="paper", x0=px(26), x1=px(26), y0=py(121), y1=py(167),
         line=dict(color="#8a8a8a", width=7)),
    dict(type="line", xref="paper", yref="paper", x0=px(1773), x1=px(1897), y0=py(121), y1=py(121),
         line=dict(color="#555", width=5)),
]

# ------------------------------------------------------------------ panel B karyotype
KARYO_ROW = [0, 0, 0, 0, 0, 1, 1, 1, 1, 1, 1, 1, 2, 2, 2, 2, 2, 2, 3, 3, 3, 3, 3, 3]
KARYO_CX = [1875, 2137, 2400, 2882, 3145, 1855, 2074, 2294, 2513, 2734, 2953, 3171,
            1852, 2065, 2282, 2706, 2921, 3155, 1853, 2070, 2400, 2618, 2947, 3168]
ROW_BASE = [428, 803, 1167, 1510]
ROW_BRACKET_Y = [437, 811, 1176, 1517]
ROW_LABEL_Y = [474, 847, 1212, 1553]
ROW_BRACKET_W = [225, 184, 180, 182]
ROW_BAR_W = [46, 42, 42, 42]

bx, by, bb, bw = [], [], [], []
brx, bry = [], []
for j, lab in enumerate(KARYO_LABELS):
    r, cx = KARYO_ROW[j], KARYO_CX[j]
    offs = (-78, -19) if lab == "18" else (-36, 28)
    for off, L in zip(offs, (KARYO_LEN_A[j], KARYO_LEN_B[j])):
        if L > 0:
            bx.append(cx + off); by.append(-L); bb.append(ROW_BASE[r]); bw.append(ROW_BAR_W[r])
    if lab == "18":
        for off, L in zip((30, 77), KARYO_FRAG_18):
            bx.append(cx + off); by.append(-L); bb.append(ROW_BASE[r] - 47); bw.append(36)
    half = (219 if lab == "18" else ROW_BRACKET_W[r]) / 2
    yb = ROW_BRACKET_Y[r]
    brx += [cx - half, cx - half, cx + half, cx + half, None]
    bry += [yb - 5, yb, yb, yb - 5, None]
    annotations.append(dict(x=cx, y=ROW_LABEL_Y[r], xref="x23", yref="y23", text=lab, showarrow=False,
                            xanchor="center", yanchor="middle",
                            font=dict(family=KFONT, size=32, color="#111")))

fig.add_trace(go.Bar(x=bx, y=by, base=bb, width=bw, xaxis="x23", yaxis="y23", showlegend=False,
                     hoverinfo="skip", opacity=0.85,
                     marker=dict(color="#d2d2d2", line=dict(width=0), cornerradius=14,
                                 pattern=dict(shape="x", fgcolor="#707070", size=9, solidity=0.3))))
fig.add_trace(go.Scatter(x=brx, y=bry, mode="lines", line=dict(color="#555", width=2.5),
                         xaxis="x23", yaxis="y23", showlegend=False, hoverinfo="skip"))
annotations.append(dict(x=3219, y=1160, ax=3313, ay=1294, xref="x23", yref="y23", axref="x23", ayref="y23",
                        text="", showarrow=True, arrowhead=2, arrowsize=1.3, arrowwidth=2.5,
                        arrowcolor="#e01b1b"))

layout["xaxis23"] = dict(domain=[0, 1], range=[0, W], anchor="y23", visible=False, fixedrange=True)
layout["yaxis23"] = dict(domain=[0, 1], range=[H, 0], anchor="x23", visible=False, fixedrange=True)

fig.update_layout(
    width=W, height=H, margin=dict(l=0, r=0, t=0, b=0),
    paper_bgcolor="white", plot_bgcolor="rgba(0,0,0,0)",
    showlegend=False, shapes=shapes, annotations=annotations, **layout)

fig.write_html("out.html", config={"displayModeBar": False},
               post_script="document.body.style.margin='0px';document.body.style.overflow='hidden';")
